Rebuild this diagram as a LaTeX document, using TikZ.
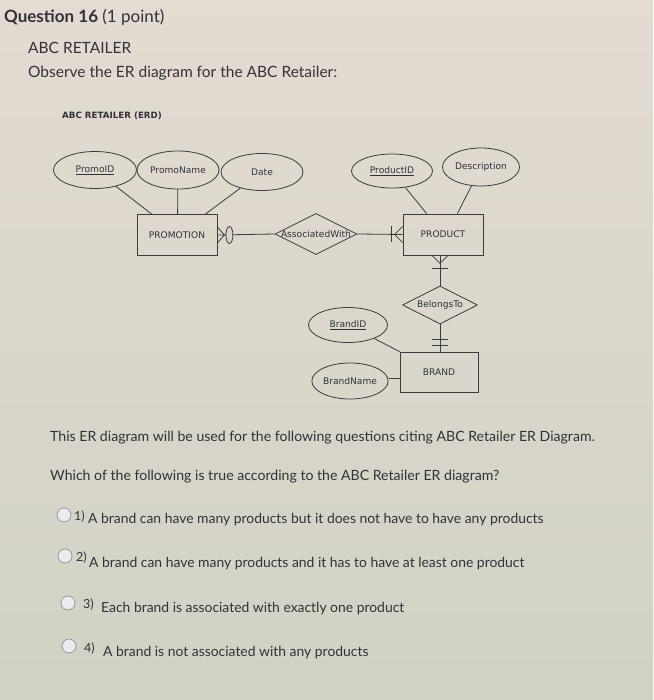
\documentclass[tikz,border=0pt]{standalone}
\usepackage{fontspec}
\setmainfont{Lato}
\newfontfamily\erf{DejaVu Sans}
\usetikzlibrary{shapes.geometric}
\definecolor{bgtop}{RGB}{228,219,210}
\definecolor{bgbot}{RGB}{208,210,196}
\definecolor{txt}{RGB}{50,50,56}
\definecolor{lc}{RGB}{60,60,60}
\definecolor{radioline}{RGB}{150,150,155}
\definecolor{radiofill}{RGB}{236,236,240}
\begin{document}
\begin{tikzpicture}[x=1pt,y=-1pt,
  lbl/.style={anchor=base west, inner sep=0pt, text=txt},
  big/.style={lbl, font=\fontsize{15.5}{18}\selectfont},
  body/.style={lbl, font=\fontsize{14.1}{16}\selectfont},
  opt/.style={lbl, font=\fontsize{13.9}{16}\selectfont},
  ertext/.style={font=\fontsize{9.1}{10}\erf, text=txt},
  attr/.style={ertext, draw=lc, line width=0.8pt, ellipse, inner sep=0pt},
  ent/.style={ertext, draw=lc, line width=0.8pt, rectangle, minimum width=80pt, minimum height=41pt, inner sep=0pt},
  rel/.style={ertext, draw=lc, line width=0.8pt, diamond, inner sep=0pt},
  conn/.style={draw=lc, line width=0.8pt},
  radio/.style={circle, draw=radioline, fill=radiofill, line width=0.8pt, minimum size=14pt, inner sep=0pt},
  optnum/.style={lbl, font=\fontsize{12.5}{14}\selectfont}
]
\shade[top color=bgtop,bottom color=bgbot] (0,0) rectangle (653,700);
\useasboundingbox (0,0) rectangle (653,700);

% header texts
\node[lbl, font=\fontsize{17}{20}\selectfont] (q) at (4,23) {\textbf{Question 16} (1 point)};
\node[big] (t1) at (28,54) {ABC RETAILER};
\node[big] (t2) at (28,78) {Observe the ER diagram for the ABC Retailer:};
\node[lbl, font=\fontsize{8.7}{10}\erf\bfseries] (erd) at (62,119) {ABC RETAILER (ERD)};

% attributes
\node[attr, minimum width=83pt, minimum height=37pt] (promoid) at (95,170) {\underline{PromoID}};
\node[attr, minimum width=82pt, minimum height=38pt] (promoname) at (178,170) {PromoName};
\node[attr, minimum width=82pt, minimum height=37pt] (date) at (262,172) {Date};
\node[attr, minimum width=81pt, minimum height=34pt] (productid) at (392,171) {\underline{ProductID}};
\node[attr, minimum width=77pt, minimum height=38pt] (description) at (481,167) {Description};
\node[attr, minimum width=79pt, minimum height=35pt] (brandid) at (348,325) {\underline{BrandID}};
\node[attr, minimum width=76pt, minimum height=36pt] (brandname) at (350,381) {BrandName};

% entities
\node[ent] (promotion) at (177,235) {PROMOTION};
\node[ent] (product) at (443,234.5) {PRODUCT};
\node[ent, minimum width=78pt, minimum height=40pt] (brand) at (439,372) {BRAND};

% relationships
\node[rel, minimum width=82pt, minimum height=41pt] (assoc) at (316,234) {\makebox[0pt]{AssociatedWith}};
\node[rel, minimum width=75pt, minimum height=38pt] (belongs) at (440,305) {\makebox[0pt]{BelongsTo}};

% attribute links
\draw[conn] (promoid) -- ([xshift=15pt]promotion.north west);
\draw[conn] (promoname) -- ([xshift=41pt]promotion.north west);
\draw[conn] (date) -- ([xshift=-12pt]promotion.north east);
\draw[conn] (productid) -- ([xshift=24pt]product.north west);
\draw[conn] (description) -- ([xshift=-26pt]product.north east);
\draw[conn] (brandid) -- (brand.north west);
\draw[conn] ([yshift=3pt]brandname.east) -- ([yshift=3pt]brandname.east -| brand.west);

% relationship links
\draw[conn] (promotion.east) -- (assoc.west);
\draw[conn] (assoc.east) -- (product.west);
\draw[conn] (belongs.north |- product.south) -- (belongs.north);
\draw[conn] (belongs.south) -- (belongs.south |- brand.north);

% PROMOTION end: zero or many
\draw[conn] ([yshift=8pt]promotion.east) -- ++(7,8) -- ++(-7,8);
\draw[conn, fill=bgbot!60!bgtop] ([xshift=12pt]promotion.east) ellipse [x radius=3.5pt, y radius=8.5pt];
% PRODUCT west end: one or many
\draw[conn] ([yshift=8pt]product.west) -- ++(-8,8) -- ++(8,8);
\draw[conn] ([xshift=-11pt,yshift=8pt]product.west) -- ++(0,16);
% PRODUCT south end: one or many
\draw[conn] ([xshift=-8pt]belongs.north |- product.south) -- ++(8,8) -- ++(8,-8);
\draw[conn] ([xshift=-8pt,yshift=-13pt]belongs.north |- product.south) -- ++(16,0);
% BRAND north end: one and only one
\draw[conn] ([xshift=-8pt,yshift=12pt]belongs.south |- brand.north) -- ++(16,0);
\draw[conn] ([xshift=-8pt,yshift=6pt]belongs.south |- brand.north) -- ++(16,0);

% question texts
\node[body] (p1) at (50,441) {This ER diagram will be used for the following questions citing ABC Retailer ER Diagram.};
\node[body] (p2) at (50,480) {Which of the following is true according to the ABC Retailer ER diagram?};

% options
\node[radio] (r1) at (64,515) {};
\node[optnum] (n1) at (74,520) {1)};
\node[opt] (o1) at (88,523) {A brand can have many products but it does not have to have any products};
\node[radio] (r2) at (65,556) {};
\node[optnum] (n2) at (76,561) {2)};
\node[opt] (o2) at (89,567) {A brand can have many products and it has to have at least one product};
\node[radio] (r3) at (68,603) {};
\node[optnum] (n3) at (83,608) {3)};
\node[opt] (o3) at (101,612) {Each brand is associated with exactly one product};
\node[radio] (r4) at (69,646) {};
\node[optnum] (n4) at (84,652) {4)};
\node[opt] (o4) at (103,656) {A brand is not associated with any products};
\end{tikzpicture}
\end{document}
